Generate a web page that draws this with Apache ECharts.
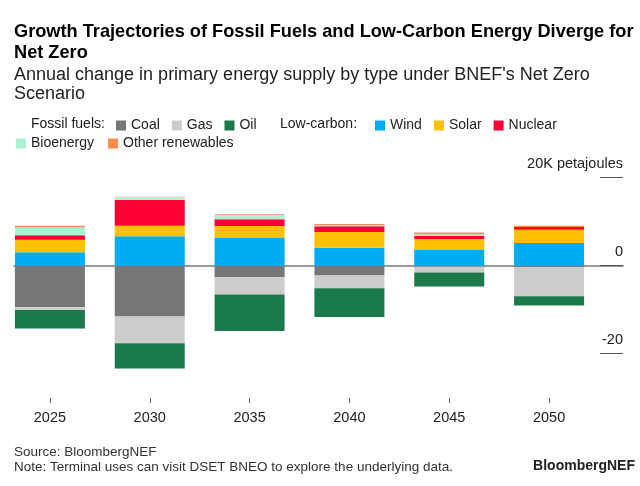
<!DOCTYPE html>
<html>
<head>
<meta charset="utf-8">
<script src="https://cdn.jsdelivr.net/npm/echarts@6/dist/echarts.min.js"></script>
<style>
html,body{margin:0;padding:0;background:#fff;}
#chart{width:640px;height:486px;}
</style>
</head>
<body>
<div id="chart"></div>
<script>
const years = ['2025', '2030', '2035', '2040', '2045', '2050'];
const coal = [-9.4, -11.5, -2.6, -2.2, -0.2, -0.3];
const gas = [-0.6, -6.1, -3.9, -2.9, -1.3, -6.6];
const oil = [-4.2, -5.7, -8.3, -6.5, -3.2, -2.1];
const wind = [3.1, 6.7, 6.45, 4.1, 3.6, 5.2];
const solar = [2.8, 2.4, 2.6, 3.6, 2.5, 3.0];
const nuclear = [1.05, 5.9, 1.5, 1.3, 0.75, 0.6];
const bioenergy = [1.8, 0.6, 1.0, 0.2, 0.3, 0];
const otherRenewables = [0.35, 0.05, 0.15, 0.3, 0.4, 0.3];
const yTickLabels = { '20': '20K petajoules', '0': '0', '-20': '-20' };

const FONT = "'Liberation Sans', Arial, sans-serif";
const colors = {
  Coal: '#767676', Gas: '#cccccc', Oil: '#1b7a4a',
  Wind: '#00adf2', Solar: '#ffc000', Nuclear: '#ff0035',
  Bioenergy: '#a9f3d2', 'Other renewables': '#f98d4d'
};
const seriesDefs = [
  ['Coal', coal], ['Gas', gas], ['Oil', oil],
  ['Wind', wind], ['Solar', solar], ['Nuclear', nuclear],
  ['Bioenergy', bioenergy], ['Other renewables', otherRenewables]
];

const series = seriesDefs.map(([name, vals]) => ({
  name, type: 'bar', stack: 'total', barWidth: 70, z: 3,
  xAxisIndex: 0, yAxisIndex: 0,
  itemStyle: { color: colors[name] },
  data: vals
}));
series.push({ type: 'line', data: [], xAxisIndex: 1, yAxisIndex: 1, silent: true });

const legendText = { fontFamily: FONT, fontSize: 14, color: '#222', fontWeight: 'normal' };
const legendBase = { itemWidth: 10, itemHeight: 10, itemGap: 12, icon: 'rect', padding: 0,
  textStyle: legendText, selectedMode: false };
const chart = echarts.init(document.getElementById('chart'), null, { renderer: 'canvas' });
chart.setOption({
  animation: false,
  backgroundColor: '#fff',
  title: [
    { text: 'Growth Trajectories of Fossil Fuels and Low-Carbon Energy Diverge for\nNet Zero',
      left: 14, top: 21.5, padding: 0,
      textStyle: { fontFamily: FONT, fontSize: 18.2, fontWeight: 'bold', color: '#000', lineHeight: 21 } },
    { text: "Annual change in primary energy supply by type under BNEF's Net Zero\nScenario",
      left: 14, top: 65, padding: 0,
      textStyle: { fontFamily: FONT, fontSize: 18, fontWeight: 'normal', color: '#222', lineHeight: 19.5 } },
    { text: 'Fossil fuels:', left: 31, top: 117.5, padding: 0, textStyle: legendText },
    { text: 'Low-carbon:', left: 280, top: 117.5, padding: 0, textStyle: legendText },
    { text: 'Source: BloombergNEF\nNote: Terminal uses can visit DSET BNEO to explore the underlying data.',
      left: 14, top: 445.5, padding: 0,
      textStyle: { fontFamily: FONT, fontSize: 13.5, fontWeight: 'normal', color: '#333', lineHeight: 14.5 } },
    { text: 'BloombergNEF', right: 5, top: 459, padding: 0,
      textStyle: { fontFamily: FONT, fontSize: 14, fontWeight: 'bold', color: '#222', lineHeight: 14 } }
  ],
  legend: [
    Object.assign({}, legendBase, { data: ['Coal', 'Gas', 'Oil'], left: 116, top: 118.5 }),
    Object.assign({}, legendBase, { data: ['Wind', 'Solar', 'Nuclear'], left: 375, top: 118.5 }),
    Object.assign({}, legendBase, { data: ['Bioenergy', 'Other renewables'], left: 16, top: 136.5, itemGap: 14 })
  ],
  grid: [
    { left: -1, right: 41, top: 177.7, bottom: 88, containLabel: false },
    { left: 14, right: 17, top: 177.7, bottom: 132.3, containLabel: false }
  ],
  xAxis: [
    { type: 'category', data: years, gridIndex: 0, position: 'bottom', boundaryGap: true,
      axisLine: { show: false, onZero: false },
      splitLine: { show: false },
      axisTick: { show: true, alignWithLabel: true, length: 5, lineStyle: { color: '#666', width: 1 } },
      axisLabel: { margin: 12, fontFamily: FONT, fontSize: 14.5, color: '#222' } },
    { type: 'value', gridIndex: 1, min: 0, max: 1, show: true,
      axisLine: { show: true, onZero: true, lineStyle: { color: '#7a7a7a', width: 1.5 } },
      axisTick: { show: false }, axisLabel: { show: false }, splitLine: { show: false } }
  ],
  yAxis: [
    { type: 'value', gridIndex: 0, min: -30, max: 20, show: false, splitLine: { show: false },
      axisLine: { onZero: false } },
    { type: 'value', gridIndex: 1, position: 'right', min: -20, max: 20, interval: 20,
      axisLine: { show: false, onZero: false },
      splitLine: { show: false },
      axisTick: { show: true, inside: true, length: 23,
        lineStyle: { color: '#555', width: 1 } },
      axisLabel: { inside: true, margin: 0, align: 'right', verticalAlign: 'bottom',
        showMinLabel: true, showMaxLabel: true,
        padding: [0, 0, 7, 0], lineHeight: 14,
        fontFamily: FONT, fontSize: 14.5, color: '#222',
        formatter: v => yTickLabels[String(v)] || String(v) } }
  ],
  series
});
</script>
</body>
</html>
